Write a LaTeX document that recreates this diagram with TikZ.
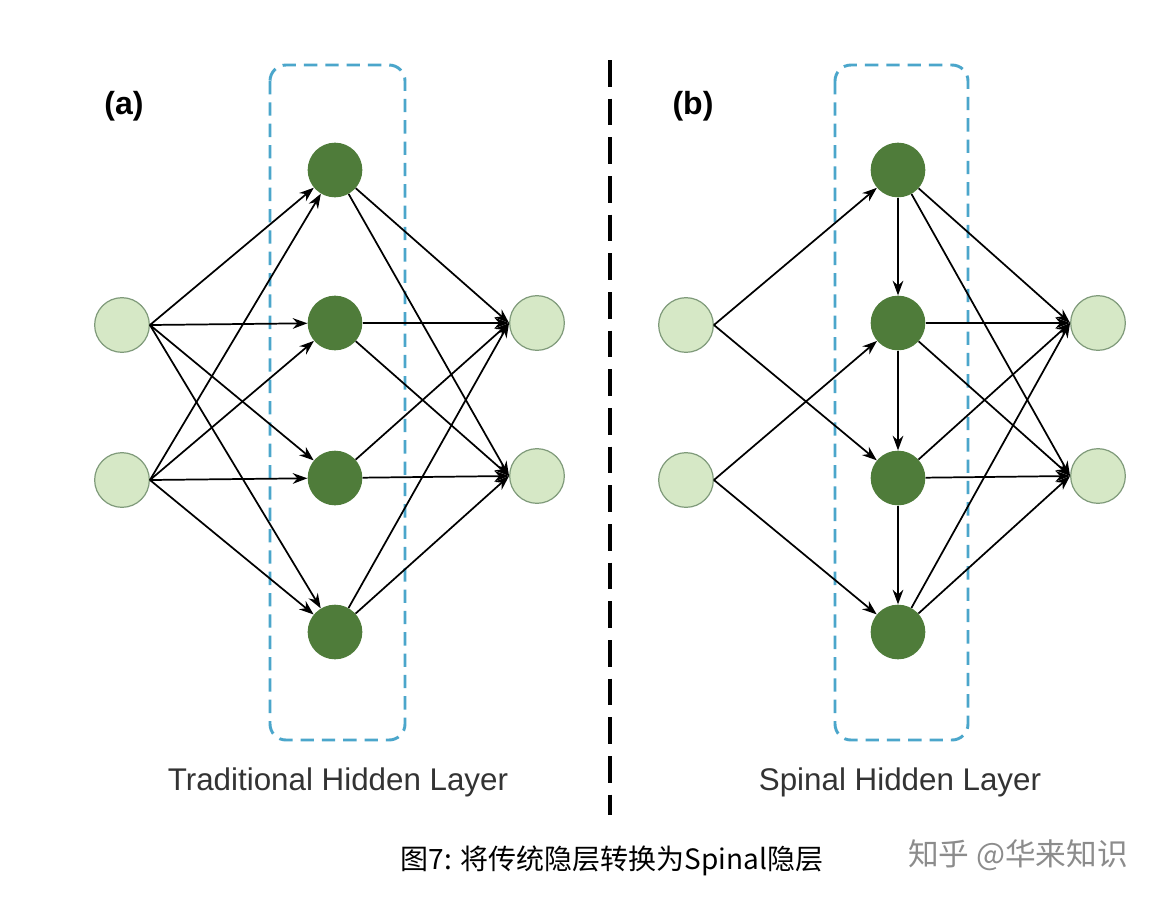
\documentclass[tikz,border=0pt]{standalone}
\usepackage{fontspec}
\setmainfont{Liberation Sans}
\newfontfamily\cjk{Noto Sans CJK SC}
\usetikzlibrary{arrows.meta}
\definecolor{lg}{HTML}{D6E8C6}
\definecolor{lgb}{HTML}{7F9A7A}
\definecolor{dg}{HTML}{4F7C3A}
\definecolor{bx}{HTML}{4BA6CB}
\begin{document}
\begin{tikzpicture}[x=0.75pt,y=-0.75pt,
 inp/.style={circle,draw=lgb,fill=lg,line width=0.9pt,minimum size=41pt,inner sep=0pt},
 hid/.style={circle,fill=dg,minimum size=41pt,inner sep=0pt},
 ar/.style={-{Stealth[length=11pt,width=8pt]},line width=1.3pt,black},
 box/.style={draw=bx,line width=2.2pt,dash pattern=on 10pt off 6pt,rounded corners=12pt},
 lab/.style={font=\fontsize{23.5}{28}\selectfont,text=black!80}]
\useasboundingbox (0,0) rectangle (1174,900);
\fill[white] (0,0) rectangle (1174,900);
% panel a
\draw[box] (270,65) rectangle (405,740);
\node[inp] (a1) at (122,325) {};
\node[inp] (a2) at (122,480) {};
\foreach \i/\y in {1/170,2/323,3/478,4/632} \node[hid] (ah\i) at (335,\y) {};
\node[inp] (ao1) at (537,323) {};
\node[inp] (ao2) at (537,476) {};
\foreach \i in {1,2} \foreach \j in {1,2,3,4} \draw[ar] (a\i.east) -- (ah\j);
\foreach \j in {1,2,3,4} \foreach \k in {1,2} \draw[ar] (ah\j) -- (ao\k.west);
\node[font=\bfseries\fontsize{24}{28}\selectfont] (la) at (124,106) {(a)};
\node[lab] (ta) at (338,782) {Traditional Hidden Layer};
% divider
\coordinate (d1) at (610,60); \coordinate (d2) at (610,815);
\draw[line width=3pt,dash pattern=on 20pt off 9pt] (d1) -- (d2);
% panel b
\draw[box] (835,65) rectangle (968,740);
\node[inp] (b1) at (686,325) {};
\node[inp] (b2) at (686,480) {};
\foreach \i/\y in {1/170,2/323,3/478,4/632} \node[hid] (bh\i) at (898,\y) {};
\node[inp] (bo1) at (1098,323) {};
\node[inp] (bo2) at (1098,476) {};
\draw[ar] (b1.east) -- (bh1); \draw[ar] (b1.east) -- (bh3);
\draw[ar] (b2.east) -- (bh2); \draw[ar] (b2.east) -- (bh4);
\draw[ar] (bh1) -- (bh2); \draw[ar] (bh2) -- (bh3); \draw[ar] (bh3) -- (bh4);
\foreach \j in {1,2,3,4} \foreach \k in {1,2} \draw[ar] (bh\j) -- (bo\k.west);
\node[font=\bfseries\fontsize{24}{28}\selectfont] (lb) at (693,106) {(b)};
\node[lab] (tb) at (900,782) {Spinal Hidden Layer};
% caption
\node[font=\cjk\fontsize{21}{25}\selectfont] (cap) at (612,861) {图7: 将传统隐层转换为Spinal隐层};
\node[font=\cjk\fontsize{23}{27}\selectfont,text=black!45] (wm) at (1018,855) {知乎 @华来知识};
\end{tikzpicture}
\end{document}
